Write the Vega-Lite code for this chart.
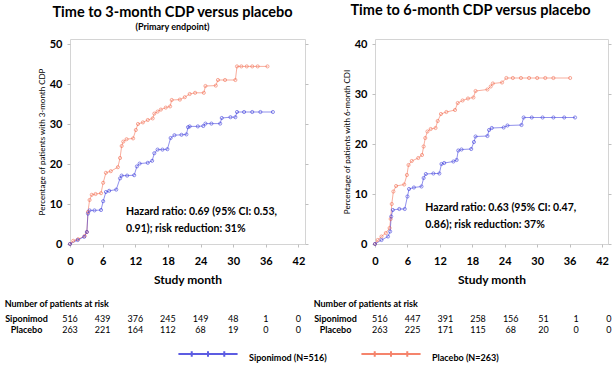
{
  "$schema": "https://vega.github.io/schema/vega-lite/v6.json",
  "background": "white",
  "padding": {"left": 4, "top": 2, "right": 0, "bottom": 0},
  "config": {
    "font": "Lato",
    "view": {"stroke": "#d4d4d4", "strokeWidth": 1},
    "title": {"color": "black"},
    "axis": {"labelColor": "black", "titleColor": "black", "grid": false, "labelOverlap": false},
    "axisX": {"labelOverlap": false, "labelFlush": false, "labelFontSize": 11, "labelFontWeight": "bold", "tickColor": "#bfbfbf", "tickSize": 3, "labelPadding": 8, "domain": false, "titleFontSize": 12, "titleFontWeight": "bold", "titlePadding": 8}
  },
  "datasets": {
    "cdp3": [
      {"group": "Placebo", "month": 0, "pct": 0}, {"group": "Placebo", "month": 0.6, "pct": 0.8}, {"group": "Placebo", "month": 1.5, "pct": 1.2}, {"group": "Placebo", "month": 2.7, "pct": 2.0}, {"group": "Placebo", "month": 3.1, "pct": 3.0}, {"group": "Placebo", "month": 3.3, "pct": 8.0}, {"group": "Placebo", "month": 3.6, "pct": 11.0}, {"group": "Placebo", "month": 4.0, "pct": 12.3}, {"group": "Placebo", "month": 4.7, "pct": 12.5}, {"group": "Placebo", "month": 5.7, "pct": 12.7}, {"group": "Placebo", "month": 6.1, "pct": 15.3}, {"group": "Placebo", "month": 6.6, "pct": 17.8}, {"group": "Placebo", "month": 7.5, "pct": 18.2}, {"group": "Placebo", "month": 8.8, "pct": 19.2}, {"group": "Placebo", "month": 9.2, "pct": 21.5}, {"group": "Placebo", "month": 9.5, "pct": 24.5}, {"group": "Placebo", "month": 9.8, "pct": 25.6}, {"group": "Placebo", "month": 10.4, "pct": 26.2}, {"group": "Placebo", "month": 11.6, "pct": 26.4}, {"group": "Placebo", "month": 12.1, "pct": 28.5}, {"group": "Placebo", "month": 12.5, "pct": 30.0}, {"group": "Placebo", "month": 13.4, "pct": 30.4}, {"group": "Placebo", "month": 14.3, "pct": 31.0}, {"group": "Placebo", "month": 15.2, "pct": 31.4}, {"group": "Placebo", "month": 15.5, "pct": 32.6}, {"group": "Placebo", "month": 16.1, "pct": 33.1}, {"group": "Placebo", "month": 16.7, "pct": 33.6}, {"group": "Placebo", "month": 17.6, "pct": 34.1}, {"group": "Placebo", "month": 18.4, "pct": 34.4}, {"group": "Placebo", "month": 18.7, "pct": 36.0}, {"group": "Placebo", "month": 20.2, "pct": 36.1}, {"group": "Placebo", "month": 21.1, "pct": 36.7}, {"group": "Placebo", "month": 22.0, "pct": 37.5}, {"group": "Placebo", "month": 23.0, "pct": 37.8}, {"group": "Placebo", "month": 24.6, "pct": 37.8}, {"group": "Placebo", "month": 24.9, "pct": 39.5}, {"group": "Placebo", "month": 26.8, "pct": 39.6}, {"group": "Placebo", "month": 27.2, "pct": 41.0}, {"group": "Placebo", "month": 28.5, "pct": 41.0}, {"group": "Placebo", "month": 30.4, "pct": 41.0}, {"group": "Placebo", "month": 30.7, "pct": 44.4}, {"group": "Placebo", "month": 31.5, "pct": 44.4}, {"group": "Placebo", "month": 32.5, "pct": 44.4}, {"group": "Placebo", "month": 33.5, "pct": 44.4}, {"group": "Placebo", "month": 34.5, "pct": 44.4}, {"group": "Placebo", "month": 36.3, "pct": 44.4},
      {"group": "Siponimod", "month": 0, "pct": 0}, {"group": "Siponimod", "month": 1.4, "pct": 1.0}, {"group": "Siponimod", "month": 2.6, "pct": 1.8}, {"group": "Siponimod", "month": 3.1, "pct": 3.0}, {"group": "Siponimod", "month": 3.3, "pct": 7.6}, {"group": "Siponimod", "month": 3.6, "pct": 8.4}, {"group": "Siponimod", "month": 4.5, "pct": 8.4}, {"group": "Siponimod", "month": 5.7, "pct": 8.5}, {"group": "Siponimod", "month": 6.1, "pct": 10.7}, {"group": "Siponimod", "month": 6.6, "pct": 13.0}, {"group": "Siponimod", "month": 7.2, "pct": 13.3}, {"group": "Siponimod", "month": 8.5, "pct": 13.6}, {"group": "Siponimod", "month": 9.2, "pct": 16.4}, {"group": "Siponimod", "month": 9.5, "pct": 17.1}, {"group": "Siponimod", "month": 10.5, "pct": 17.1}, {"group": "Siponimod", "month": 11.8, "pct": 17.2}, {"group": "Siponimod", "month": 12.3, "pct": 19.4}, {"group": "Siponimod", "month": 12.8, "pct": 20.1}, {"group": "Siponimod", "month": 14.3, "pct": 20.3}, {"group": "Siponimod", "month": 15.1, "pct": 20.8}, {"group": "Siponimod", "month": 15.5, "pct": 22.7}, {"group": "Siponimod", "month": 16.1, "pct": 23.6}, {"group": "Siponimod", "month": 17.0, "pct": 23.6}, {"group": "Siponimod", "month": 17.9, "pct": 23.7}, {"group": "Siponimod", "month": 18.5, "pct": 26.5}, {"group": "Siponimod", "month": 19.2, "pct": 27.2}, {"group": "Siponimod", "month": 20.5, "pct": 27.3}, {"group": "Siponimod", "month": 21.4, "pct": 27.4}, {"group": "Siponimod", "month": 21.7, "pct": 29.2}, {"group": "Siponimod", "month": 22.0, "pct": 29.4}, {"group": "Siponimod", "month": 23.5, "pct": 29.4}, {"group": "Siponimod", "month": 24.5, "pct": 29.5}, {"group": "Siponimod", "month": 24.9, "pct": 30.1}, {"group": "Siponimod", "month": 26.0, "pct": 30.1}, {"group": "Siponimod", "month": 27.6, "pct": 30.1}, {"group": "Siponimod", "month": 27.9, "pct": 31.5}, {"group": "Siponimod", "month": 29.5, "pct": 31.7}, {"group": "Siponimod", "month": 30.4, "pct": 31.7}, {"group": "Siponimod", "month": 30.7, "pct": 33.0}, {"group": "Siponimod", "month": 32.0, "pct": 33.0}, {"group": "Siponimod", "month": 33.5, "pct": 33.0}, {"group": "Siponimod", "month": 35.0, "pct": 33.0}, {"group": "Siponimod", "month": 37.3, "pct": 33.0}
    ],
    "cdp6": [
      {"group": "Placebo", "month": 0, "pct": 0}, {"group": "Placebo", "month": 0.5, "pct": 0.8}, {"group": "Placebo", "month": 1.2, "pct": 1.5}, {"group": "Placebo", "month": 2.0, "pct": 2.2}, {"group": "Placebo", "month": 2.7, "pct": 3.2}, {"group": "Placebo", "month": 2.9, "pct": 5.0}, {"group": "Placebo", "month": 3.1, "pct": 8.0}, {"group": "Placebo", "month": 3.4, "pct": 10.5}, {"group": "Placebo", "month": 3.9, "pct": 11.6}, {"group": "Placebo", "month": 5.4, "pct": 11.9}, {"group": "Placebo", "month": 5.9, "pct": 13.8}, {"group": "Placebo", "month": 6.2, "pct": 15.8}, {"group": "Placebo", "month": 6.8, "pct": 16.6}, {"group": "Placebo", "month": 8.0, "pct": 17.2}, {"group": "Placebo", "month": 8.7, "pct": 17.8}, {"group": "Placebo", "month": 9.0, "pct": 19.5}, {"group": "Placebo", "month": 9.3, "pct": 21.2}, {"group": "Placebo", "month": 9.7, "pct": 22.5}, {"group": "Placebo", "month": 10.3, "pct": 23.0}, {"group": "Placebo", "month": 11.2, "pct": 23.2}, {"group": "Placebo", "month": 11.6, "pct": 24.6}, {"group": "Placebo", "month": 12.2, "pct": 26.0}, {"group": "Placebo", "month": 13.2, "pct": 26.4}, {"group": "Placebo", "month": 14.8, "pct": 26.8}, {"group": "Placebo", "month": 15.3, "pct": 28.2}, {"group": "Placebo", "month": 16.2, "pct": 28.7}, {"group": "Placebo", "month": 17.2, "pct": 29.1}, {"group": "Placebo", "month": 18.2, "pct": 29.3}, {"group": "Placebo", "month": 18.6, "pct": 30.6}, {"group": "Placebo", "month": 20.8, "pct": 30.9}, {"group": "Placebo", "month": 21.4, "pct": 31.5}, {"group": "Placebo", "month": 21.8, "pct": 32.1}, {"group": "Placebo", "month": 23.5, "pct": 32.3}, {"group": "Placebo", "month": 24.3, "pct": 33.2}, {"group": "Placebo", "month": 25.5, "pct": 33.2}, {"group": "Placebo", "month": 27.0, "pct": 33.2}, {"group": "Placebo", "month": 28.5, "pct": 33.2}, {"group": "Placebo", "month": 30.0, "pct": 33.2}, {"group": "Placebo", "month": 31.5, "pct": 33.2}, {"group": "Placebo", "month": 33.0, "pct": 33.2}, {"group": "Placebo", "month": 36.1, "pct": 33.2},
      {"group": "Siponimod", "month": 0, "pct": 0}, {"group": "Siponimod", "month": 1.2, "pct": 0.8}, {"group": "Siponimod", "month": 2.4, "pct": 1.5}, {"group": "Siponimod", "month": 2.8, "pct": 2.5}, {"group": "Siponimod", "month": 3.0, "pct": 5.5}, {"group": "Siponimod", "month": 3.3, "pct": 6.8}, {"group": "Siponimod", "month": 4.5, "pct": 7.0}, {"group": "Siponimod", "month": 5.5, "pct": 7.0}, {"group": "Siponimod", "month": 6.0, "pct": 9.5}, {"group": "Siponimod", "month": 6.3, "pct": 11.0}, {"group": "Siponimod", "month": 7.2, "pct": 11.3}, {"group": "Siponimod", "month": 8.6, "pct": 11.5}, {"group": "Siponimod", "month": 9.0, "pct": 13.2}, {"group": "Siponimod", "month": 9.4, "pct": 14.0}, {"group": "Siponimod", "month": 10.8, "pct": 14.1}, {"group": "Siponimod", "month": 11.9, "pct": 14.1}, {"group": "Siponimod", "month": 12.3, "pct": 16.0}, {"group": "Siponimod", "month": 12.8, "pct": 16.2}, {"group": "Siponimod", "month": 14.5, "pct": 16.5}, {"group": "Siponimod", "month": 15.1, "pct": 16.8}, {"group": "Siponimod", "month": 15.4, "pct": 18.7}, {"group": "Siponimod", "month": 16.0, "pct": 18.9}, {"group": "Siponimod", "month": 17.8, "pct": 19.0}, {"group": "Siponimod", "month": 18.3, "pct": 20.4}, {"group": "Siponimod", "month": 18.6, "pct": 21.5}, {"group": "Siponimod", "month": 20.8, "pct": 21.6}, {"group": "Siponimod", "month": 21.1, "pct": 22.8}, {"group": "Siponimod", "month": 21.6, "pct": 23.2}, {"group": "Siponimod", "month": 23.8, "pct": 23.3}, {"group": "Siponimod", "month": 24.5, "pct": 23.7}, {"group": "Siponimod", "month": 27.1, "pct": 23.8}, {"group": "Siponimod", "month": 27.5, "pct": 25.3}, {"group": "Siponimod", "month": 29.0, "pct": 25.3}, {"group": "Siponimod", "month": 31.0, "pct": 25.3}, {"group": "Siponimod", "month": 33.0, "pct": 25.3}, {"group": "Siponimod", "month": 35.0, "pct": 25.3}, {"group": "Siponimod", "month": 37.0, "pct": 25.3}
    ],
    "risk3": [
      {"group": "Siponimod", "month": 0, "n": 516}, {"group": "Siponimod", "month": 6, "n": 439}, {"group": "Siponimod", "month": 12, "n": 376}, {"group": "Siponimod", "month": 18, "n": 245}, {"group": "Siponimod", "month": 24, "n": 149}, {"group": "Siponimod", "month": 30, "n": 48}, {"group": "Siponimod", "month": 36, "n": 1}, {"group": "Siponimod", "month": 42, "n": 0},
      {"group": "Placebo", "month": 0, "n": 263}, {"group": "Placebo", "month": 6, "n": 221}, {"group": "Placebo", "month": 12, "n": 164}, {"group": "Placebo", "month": 18, "n": 112}, {"group": "Placebo", "month": 24, "n": 68}, {"group": "Placebo", "month": 30, "n": 19}, {"group": "Placebo", "month": 36, "n": 0}, {"group": "Placebo", "month": 42, "n": 0}
    ],
    "risk6": [
      {"group": "Siponimod", "month": 0, "n": 516}, {"group": "Siponimod", "month": 6, "n": 447}, {"group": "Siponimod", "month": 12, "n": 391}, {"group": "Siponimod", "month": 18, "n": 258}, {"group": "Siponimod", "month": 24, "n": 156}, {"group": "Siponimod", "month": 30, "n": 51}, {"group": "Siponimod", "month": 36, "n": 1}, {"group": "Siponimod", "month": 42, "n": 0},
      {"group": "Placebo", "month": 0, "n": 263}, {"group": "Placebo", "month": 6, "n": 225}, {"group": "Placebo", "month": 12, "n": 171}, {"group": "Placebo", "month": 18, "n": 115}, {"group": "Placebo", "month": 24, "n": 68}, {"group": "Placebo", "month": 30, "n": 20}, {"group": "Placebo", "month": 36, "n": 0}, {"group": "Placebo", "month": 42, "n": 0}
    ]
  },
  "columns": 2,
  "spacing": {"column": 4, "row": 14},
  "resolve": {"scale": {"color": "shared"}},
  "concat": [
    {
      "width": 235, "height": 205,
      "title": {"text": "Time to 3-month CDP versus placebo", "subtitle": "(Primary endpoint)", "fontSize": 14.5, "fontWeight": "bold", "subtitleFontSize": 9, "subtitleFontWeight": "bold", "subtitleColor": "black", "subtitlePadding": 3, "offset": 5, "dx": -15, "anchor": "middle"},
      "layer": [
        {
          "data": {"name": "cdp3"},
          "mark": {"type": "line", "strokeWidth": 1, "opacity": 0.5},
          "encoding": {
            "x": {"field": "month", "type": "quantitative", "scale": {"domain": [0, 43.2], "nice": false}, "axis": {"title": "Study month", "values": [0, 6, 12, 18, 24, 30, 36, 42], "labelOverlap": false}},
            "y": {"field": "pct", "type": "quantitative", "scale": {"domain": [0, 51.25], "nice": false}, "axis": {"values": [0, 10, 20, 30, 40, 50], "labelFontSize": 11, "labelFontWeight": "bold", "tickColor": "#bfbfbf", "tickSize": 3, "labelPadding": 5, "domain": false, "title": "Percentage of patients  with 3-month CDP", "titleFontSize": 8, "titleFontWeight": "normal", "titlePadding": 3}},
            "color": {"field": "group", "type": "nominal", "scale": {"domain": ["Siponimod", "Placebo"], "range": ["#2626d9", "#f25c3c"]},
              "legend": {"orient": "none", "legendX": 107, "legendY": 284, "direction": "horizontal", "title": null, "symbolType": "M-1,0H1M-0.55,-0.09V0.09M0,-0.09V0.09M0.55,-0.09V0.09", "symbolSize": 3500, "symbolStrokeWidth": 2, "symbolOpacity": 1, "labelExpr": "datum.label == 'Siponimod' ? 'Siponimod (N=516)' : 'Placebo (N=263)'", "labelFontSize": 9, "labelFontWeight": "bold", "labelColor": "black", "labelOffset": 10, "columnPadding": 30, "labelBaseline": "top"}}
          }
        },
        {
          "data": {"name": "cdp3"},
          "mark": {"type": "point", "size": 10, "strokeWidth": 0.7, "opacity": 0.75, "filled": false},
          "encoding": {
            "x": {"field": "month", "type": "quantitative", "axis": {"title": "Study month", "values": [0, 6, 12, 18, 24, 30, 36, 42], "labelOverlap": false}},
            "y": {"field": "pct", "type": "quantitative", "axis": {"orient": "right", "values": [0, 10, 20, 30, 40, 50], "labels": false, "tickColor": "#bfbfbf", "tickSize": 3, "domain": false, "title": null}},
            "color": {"field": "group", "type": "nominal"}
          }
        },
        {
          "data": {"values": [{"note": "hr"}]},
          "mark": {"type": "text", "text": ["Hazard ratio: 0.69 (95% CI: 0.53,", "0.91); risk reduction: 31%"], "align": "left", "baseline": "top", "fontSize": 10.5, "fontWeight": "bold", "lineHeight": 17, "color": "black"},
          "encoding": {"x": {"datum": 10.3, "type": "quantitative", "axis": {"title": "Study month", "values": [0, 6, 12, 18, 24, 30, 36, 42], "labelOverlap": false}}, "y": {"datum": 9.3, "type": "quantitative", "axis": null}}
        }
      ],
      "resolve": {"axis": {"y": "independent"}}
    },
    {
      "width": 233, "height": 205,
      "title": {"text": "Time to 6-month CDP versus placebo", "fontSize": 14.5, "fontWeight": "bold", "offset": 20, "dx": -21, "anchor": "middle"},
      "layer": [
        {
          "data": {"name": "cdp6"},
          "mark": {"type": "line", "strokeWidth": 1, "opacity": 0.5},
          "encoding": {
            "x": {"field": "month", "type": "quantitative", "scale": {"domain": [0, 43.1], "nice": false}, "axis": {"title": "Study month", "values": [0, 6, 12, 18, 24, 30, 36, 42], "labelOverlap": false}},
            "y": {"field": "pct", "type": "quantitative", "scale": {"domain": [0, 41], "nice": false}, "axis": {"values": [0, 10, 20, 30, 40], "labelFontSize": 11, "labelFontWeight": "bold", "tickColor": "#bfbfbf", "tickSize": 3, "labelPadding": 5, "domain": false, "title": "Percentage of patients  with 6-month CDI", "titleFontSize": 8, "titleFontWeight": "normal", "titlePadding": 3}},
            "color": {"field": "group", "type": "nominal"}
          }
        },
        {
          "data": {"name": "cdp6"},
          "mark": {"type": "point", "size": 10, "strokeWidth": 0.7, "opacity": 0.75, "filled": false},
          "encoding": {
            "x": {"field": "month", "type": "quantitative", "axis": {"title": "Study month", "values": [0, 6, 12, 18, 24, 30, 36, 42], "labelOverlap": false}},
            "y": {"field": "pct", "type": "quantitative", "axis": {"orient": "right", "values": [0, 10, 20, 30, 40], "labels": false, "tickColor": "#bfbfbf", "tickSize": 3, "domain": false, "title": null}},
            "color": {"field": "group", "type": "nominal"}
          }
        },
        {
          "data": {"values": [{"note": "hr"}]},
          "mark": {"type": "text", "text": ["Hazard ratio: 0.63 (95% CI: 0.47,", "0.86); risk reduction: 37%"], "align": "left", "baseline": "top", "fontSize": 10.5, "fontWeight": "bold", "lineHeight": 17, "color": "black"},
          "encoding": {"x": {"datum": 9.3, "type": "quantitative", "axis": {"title": "Study month", "values": [0, 6, 12, 18, 24, 30, 36, 42], "labelOverlap": false}}, "y": {"datum": 8.2, "type": "quantitative", "axis": null}}
        }
      ],
      "resolve": {"axis": {"y": "independent"}}
    },
    {
      "width": 235, "height": 22,
      "view": {"stroke": null},
      "title": {"text": "Number of patients at risk", "anchor": "start", "frame": "bounds", "fontSize": 9, "fontWeight": "bold", "offset": 4},
      "data": {"name": "risk3"},
      "mark": {"type": "text", "fontSize": 9, "color": "black"},
      "encoding": {
        "x": {"field": "month", "type": "quantitative", "scale": {"domain": [0, 43.2], "nice": false}, "axis": null},
        "y": {"field": "group", "type": "nominal", "sort": ["Siponimod", "Placebo"], "scale": {"paddingInner": 0, "paddingOuter": 0}, "axis": {"title": null, "domain": false, "ticks": false, "tickSize": 0, "labelFontSize": 9, "labelFontWeight": "bold", "labelAlign": "center", "labelPadding": 44}},
        "text": {"field": "n", "type": "quantitative", "format": "d"}
      }
    },
    {
      "width": 233, "height": 22,
      "view": {"stroke": null},
      "title": {"text": "Number of patients at risk", "anchor": "start", "frame": "bounds", "fontSize": 9, "fontWeight": "bold", "offset": 4},
      "data": {"name": "risk6"},
      "mark": {"type": "text", "fontSize": 9, "color": "black"},
      "encoding": {
        "x": {"field": "month", "type": "quantitative", "scale": {"domain": [-0.9, 41.85], "nice": false}, "axis": null},
        "y": {"field": "group", "type": "nominal", "sort": ["Siponimod", "Placebo"], "scale": {"paddingInner": 0, "paddingOuter": 0}, "axis": {"title": null, "domain": false, "ticks": false, "tickSize": 0, "labelFontSize": 9, "labelFontWeight": "bold", "labelAlign": "center", "labelPadding": 40}},
        "text": {"field": "n", "type": "quantitative", "format": "d"}
      }
    }
  ]
}
